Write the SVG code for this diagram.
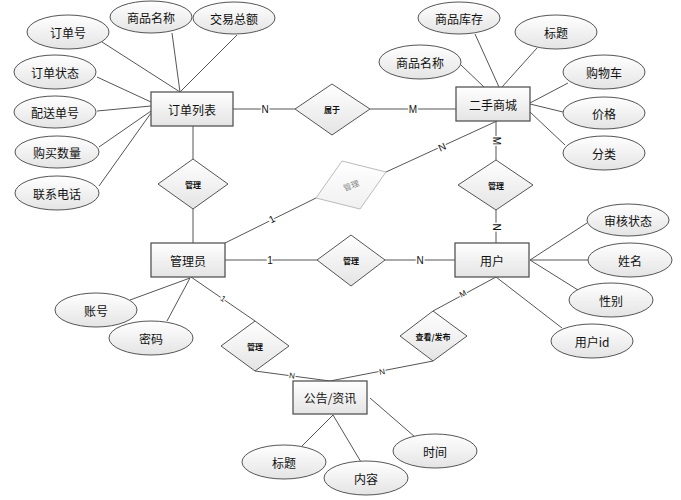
<svg xmlns="http://www.w3.org/2000/svg" width="681" height="500" viewBox="0 0 681 500">
<defs>
<linearGradient id="g" x1="0" y1="0" x2="0" y2="1">
<stop offset="0" stop-color="#ffffff"/>
<stop offset="1" stop-color="#e4e4e4"/>
</linearGradient>
<linearGradient id="gl" x1="0" y1="0" x2="0" y2="1">
<stop offset="0" stop-color="#ffffff"/>
<stop offset="1" stop-color="#f0f0f0"/>
</linearGradient>
<style>
.e{fill:url(#g);stroke:#555;stroke-width:1}
.r{fill:url(#g);stroke:#555;stroke-width:1.3}
.d{fill:url(#g);stroke:#555;stroke-width:1}
.dl{fill:url(#gl);stroke:#bbb;stroke-width:1}
.t{font-family:"Noto Sans CJK SC","Liberation Sans",sans-serif;font-size:12px;fill:#111;text-anchor:middle;dominant-baseline:central}
.ts{font-family:"Noto Sans CJK SC","Liberation Sans",sans-serif;font-size:8px;font-weight:bold;fill:#111;text-anchor:middle;dominant-baseline:central}
.tg{font-family:"Noto Sans CJK SC","Liberation Sans",sans-serif;font-size:8px;fill:#888;text-anchor:middle;dominant-baseline:central}
.l{stroke:#555;stroke-width:1;fill:none}
.lb{font-family:"Liberation Sans",sans-serif;font-size:10px;fill:#111;text-anchor:middle;dominant-baseline:central;stroke:#fff;stroke-width:3;paint-order:stroke}
.lbs{font-family:"Liberation Sans",sans-serif;font-size:8px;fill:#111;text-anchor:middle;dominant-baseline:central;stroke:#fff;stroke-width:2.5;paint-order:stroke}
</style>
</defs>
<g id="connectors">
<!-- 订单列表 attributes -->
<line class="l" x1="102" y1="42" x2="180" y2="92"/>
<line class="l" x1="172" y1="33" x2="180" y2="92"/>
<line class="l" x1="237" y1="35" x2="180" y2="92"/>
<line class="l" x1="97" y1="77" x2="151" y2="102"/>
<line class="l" x1="97" y1="111" x2="151" y2="106"/>
<line class="l" x1="99" y1="147" x2="151" y2="111"/>
<line class="l" x1="99" y1="186" x2="151" y2="113"/>
<!-- 二手商城 attributes -->
<line class="l" x1="475" y1="34" x2="499" y2="87"/>
<line class="l" x1="537" y1="48" x2="502" y2="87"/>
<line class="l" x1="461" y1="65" x2="484" y2="87"/>
<line class="l" x1="568" y1="83" x2="530" y2="103"/>
<line class="l" x1="563" y1="112" x2="530" y2="104" stroke-width="1.6"/>
<line class="l" x1="565" y1="145" x2="530" y2="112"/>
<!-- 用户 attributes -->
<line class="l" x1="587" y1="223" x2="530" y2="260"/>
<line class="l" x1="588" y1="260" x2="530" y2="260"/>
<line class="l" x1="578" y1="290" x2="530" y2="260"/>
<line class="l" x1="562" y1="328" x2="496" y2="277"/>
<!-- 管理员 attributes -->
<line class="l" x1="130" y1="300" x2="190" y2="278"/>
<line class="l" x1="167" y1="321" x2="190" y2="278"/>
<!-- 公告 attributes -->
<line class="l" x1="302" y1="446" x2="333" y2="415"/>
<line class="l" x1="361" y1="462" x2="333" y2="415"/>
<line class="l" x1="415" y1="437" x2="370" y2="398"/>
<!-- relationships -->
<line class="l" x1="233" y1="109" x2="295" y2="109"/>
<line class="l" x1="370" y1="109" x2="456" y2="109"/>
<line class="l" x1="193" y1="126" x2="193" y2="159"/>
<line class="l" x1="193" y1="209" x2="193" y2="243"/>
<line class="l" x1="225" y1="260" x2="317" y2="260"/>
<line class="l" x1="385" y1="260" x2="455" y2="260"/>
<line class="l" x1="496" y1="121" x2="496" y2="160"/>
<line class="l" x1="496" y1="210" x2="496" y2="243"/>
<line class="l" x1="225" y1="243" x2="316" y2="198"/>
<line class="l" x1="386" y1="172" x2="497" y2="121"/>
<line class="l" x1="191" y1="277" x2="255" y2="321"/>
<line class="l" x1="255" y1="371" x2="330" y2="381"/>
<line class="l" x1="433" y1="361" x2="330" y2="381"/>
<line class="l" x1="496" y1="277" x2="433" y2="311"/>
<!-- cardinality labels -->
<text class="lb" x="265" y="109">N</text>
<text class="lb" x="413" y="109">M</text>
<text class="lb" x="270" y="260">1</text>
<text class="lb" x="420" y="260">N</text>
<text class="lb" transform="translate(496,141) rotate(90)">M</text>
<text class="lb" transform="translate(496,227) rotate(90)">N</text>
<text class="lb" transform="translate(272,219) rotate(-27)">1</text>
<text class="lb" transform="translate(442,147) rotate(-25)">N</text>
<text class="lbs" transform="translate(223,299) rotate(34)">1</text>
<text class="lbs" transform="translate(292,376) rotate(8)">N</text>
<text class="lbs" transform="translate(382,372) rotate(-11)">N</text>
<text class="lbs" transform="translate(463,294) rotate(-28)">M</text>
</g>
<g id="e-order"><rect class="r" x="151" y="92" width="82" height="34"/><text class="t" x="192" y="109">订单列表</text></g>
<g id="e-mall"><rect class="r" x="456" y="87" width="74" height="34"/><text class="t" x="493" y="104">二手商城</text></g>
<g id="e-admin"><rect class="r" x="151" y="243" width="74" height="34"/><text class="t" x="188" y="260">管理员</text></g>
<g id="e-user"><rect class="r" x="455" y="243" width="74" height="34"/><text class="t" x="492" y="260">用户</text></g>
<g id="e-notice"><rect class="r" x="293" y="381" width="74" height="33"/><text class="t" x="330" y="397">公告/资讯</text></g>
<g id="r-belong"><polygon class="d" points="295,109 332,84 370,109 332,135"/><text class="ts" x="332" y="109">属于</text></g>
<g id="r-manage-order"><polygon class="d" points="158,184 193,159 228,184 193,209"/><text class="ts" x="193" y="184">管理</text></g>
<g id="r-manage-mall"><polygon class="dl" points="316,198 342,161 386,172 360,209"/><text class="tg" transform="translate(351,185) rotate(-21)">管理</text></g>
<g id="r-manage-mall-user"><polygon class="d" points="458,185 496,160 533,185 496,210"/><text class="ts" x="496" y="185">管理</text></g>
<g id="r-manage-user"><polygon class="d" points="317,260 351,235 385,260 351,286"/><text class="ts" x="351" y="260">管理</text></g>
<g id="r-manage-notice"><polygon class="d" points="221,346 255,321 289,346 255,371"/><text class="ts" x="255" y="346">管理</text></g>
<g id="r-view"><polygon class="d" points="400,336 433,311 467,336 433,361"/><text class="ts" x="433" y="336">查看/发布</text></g>
<g id="a-order-no"><ellipse class="e" cx="68" cy="32" rx="41" ry="17"/><text class="t" x="68" y="32">订单号</text></g>
<g id="a-order-goods"><ellipse class="e" cx="151" cy="17" rx="41" ry="16"/><text class="t" x="151" y="17">商品名称</text></g>
<g id="a-order-total"><ellipse class="e" cx="234" cy="18" rx="41" ry="16"/><text class="t" x="234" y="18">交易总额</text></g>
<g id="a-order-status"><ellipse class="e" cx="55" cy="72" rx="41" ry="17"/><text class="t" x="55" y="72">订单状态</text></g>
<g id="a-order-ship"><ellipse class="e" cx="55" cy="112" rx="41" ry="16"/><text class="t" x="55" y="112">配送单号</text></g>
<g id="a-order-qty"><ellipse class="e" cx="57" cy="152" rx="42" ry="16"/><text class="t" x="57" y="152">购买数量</text></g>
<g id="a-order-phone"><ellipse class="e" cx="57" cy="193" rx="42" ry="17"/><text class="t" x="57" y="193">联系电话</text></g>
<g id="a-mall-stock"><ellipse class="e" cx="459" cy="18" rx="41" ry="16"/><text class="t" x="459" y="18">商品库存</text></g>
<g id="a-mall-title"><ellipse class="e" cx="556" cy="32" rx="41" ry="17"/><text class="t" x="556" y="32">标题</text></g>
<g id="a-mall-name"><ellipse class="e" cx="420" cy="62" rx="41" ry="17"/><text class="t" x="420" y="62">商品名称</text></g>
<g id="a-mall-cart"><ellipse class="e" cx="604" cy="72" rx="41" ry="17"/><text class="t" x="604" y="72">购物车</text></g>
<g id="a-mall-price"><ellipse class="e" cx="604" cy="113" rx="41" ry="16"/><text class="t" x="604" y="113">价格</text></g>
<g id="a-mall-cat"><ellipse class="e" cx="604" cy="153" rx="41" ry="17"/><text class="t" x="604" y="153">分类</text></g>
<g id="a-user-audit"><ellipse class="e" cx="628" cy="220" rx="41" ry="16"/><text class="t" x="628" y="220">审核状态</text></g>
<g id="a-user-name"><ellipse class="e" cx="630" cy="260" rx="42" ry="17"/><text class="t" x="630" y="260">姓名</text></g>
<g id="a-user-sex"><ellipse class="e" cx="611" cy="300" rx="42" ry="17"/><text class="t" x="611" y="300">性别</text></g>
<g id="a-user-id"><ellipse class="e" cx="592" cy="341" rx="41" ry="17"/><text class="t" x="592" y="341">用户id</text></g>
<g id="a-admin-acc"><ellipse class="e" cx="96" cy="310" rx="41" ry="17"/><text class="t" x="96" y="310">账号</text></g>
<g id="a-admin-pwd"><ellipse class="e" cx="151" cy="338" rx="42" ry="17"/><text class="t" x="151" y="338">密码</text></g>
<g id="a-notice-title"><ellipse class="e" cx="284" cy="462" rx="42" ry="17"/><text class="t" x="284" y="462">标题</text></g>
<g id="a-notice-content"><ellipse class="e" cx="366" cy="478" rx="42" ry="17"/><text class="t" x="366" y="478">内容</text></g>
<g id="a-notice-time"><ellipse class="e" cx="435" cy="451" rx="42" ry="17"/><text class="t" x="435" y="451">时间</text></g>
</svg>
